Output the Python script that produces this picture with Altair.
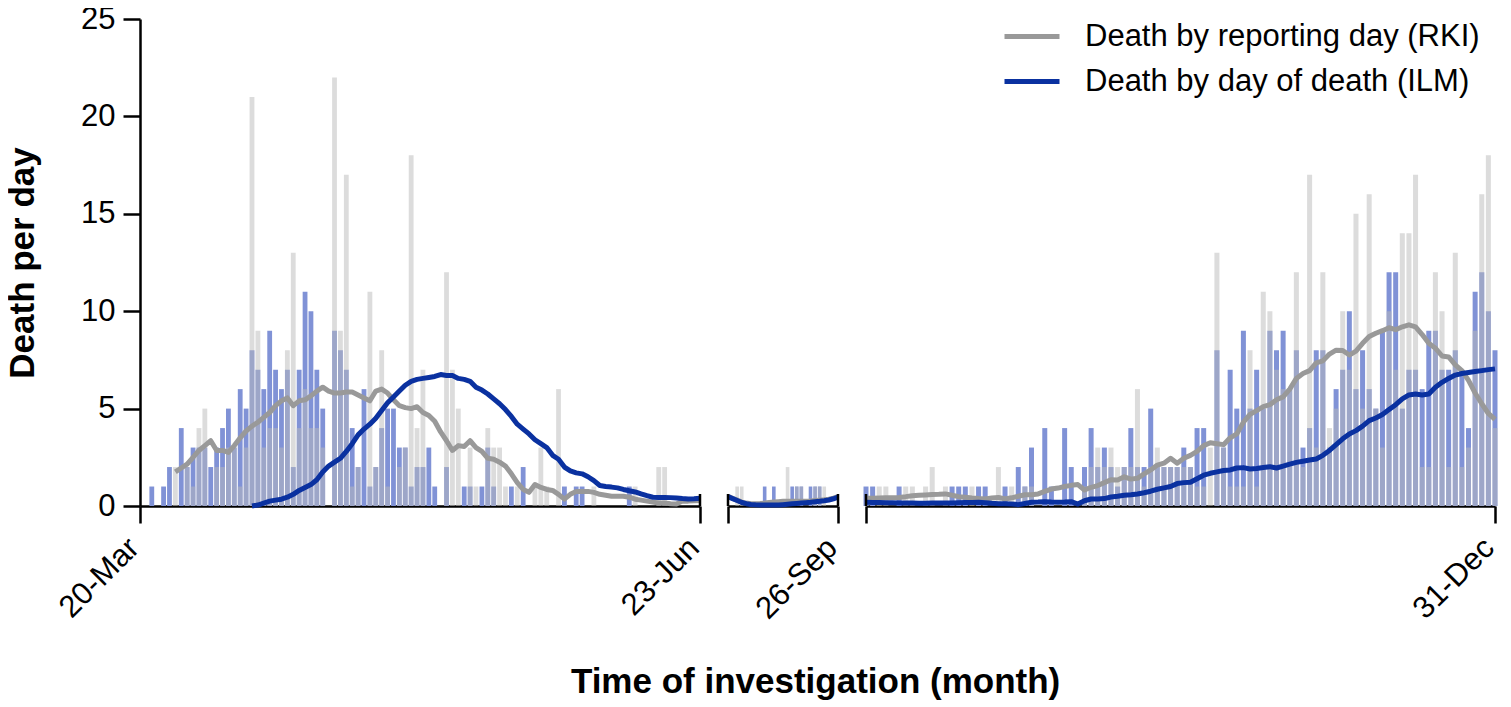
import altair as alt
import pandas as pd

# ---------------- data ----------------
SEG_START = ["2020-03-20", "2020-09-02", "2020-09-27"]
SEG_END = ["2020-06-23", "2020-09-26", "2020-12-31"]
SHOW_START_LABEL = [True, False, False]

RKI_LABEL = "Death by reporting day (RKI)"
ILM_LABEL = "Death by day of death (ILM)"

# segment 1 (20-Mar .. 23-Jun), daily values
ILM_BARS_1 = [0, 0, 1, 0, 1, 2, 0, 4, 2, 3,
              3, 3, 2, 3, 4, 5, 3, 6, 5, 8,
              7, 6, 9, 7, 6, 7, 2, 7, 11, 10,
              7, 5, 0, 9, 8, 7, 4, 2, 6, 1,
              2, 4, 5, 5, 3, 3, 1, 2, 2, 3,
              1, 0, 2, 0, 0, 1, 1, 0, 1, 3,
              1, 0, 0, 1, 0, 2, 0, 0, 0, 0,
              0, 0, 1, 0, 1, 1, 0, 0, 0, 0,
              0, 0, 0, 1, 0, 0, 0, 0, 0, 0,
              0, 0, 0, 0, 0, 0]
RKI_BARS_1 = [0, 0, 0, 0, 0, 0, 2, 0, 2, 1,
              4, 5, 0, 2, 2, 3, 3, 1, 3, 21,
              9, 3, 4, 4, 3, 8, 13, 4, 6, 4,
              4, 3, 0, 22, 9, 17, 1, 2, 0, 11,
              2, 8, 1, 0, 2, 3, 18, 4, 7, 0,
              0, 0, 12, 7, 5, 0, 3, 1, 0, 4,
              3, 3, 1, 0, 1, 0, 0, 1, 3, 1,
              0, 6, 0, 0, 0, 0, 0, 1, 0, 0,
              0, 0, 0, 0, 1, 0, 0, 0, 2, 2,
              0, 0, 0, 0, 0, 0]
RKI_LINE_1_START = 6
RKI_LINE_1 = [1.75, 1.95, 2.15, 2.5, 2.85, 3.1, 3.35, 2.85, 2.85, 2.75,
              3.1, 3.5, 3.85, 4.1, 4.3, 4.55, 4.8, 5.15, 5.4, 5.55,
              5.15, 5.4, 5.45, 5.65, 5.9, 6.1, 5.9, 5.8, 5.8, 5.85,
              5.85, 5.7, 5.55, 5.4, 5.9, 6.0, 5.8, 5.45, 5.15, 5.05,
              5.0, 5.1, 4.8, 4.65, 4.35, 3.8, 3.35, 2.85, 3.1, 3.05,
              3.35, 3.0, 2.8, 2.45, 2.4, 2.25, 2.05, 1.65, 1.2, 0.85,
              0.7, 1.1, 0.95, 0.85, 0.8, 0.6, 0.35, 0.6, 0.75, 0.75,
              0.75, 0.7, 0.6, 0.55, 0.5, 0.5, 0.5, 0.45, 0.35, 0.3,
              0.25, 0.2, 0.15, 0.15, 0.12, 0.1, 0.25, 0.25, 0.27, 0.28]
ILM_LINE_1_START = 19
ILM_LINE_1 = [0.0, 0.05, 0.15, 0.25, 0.3, 0.35, 0.45, 0.6, 0.8, 0.95,
              1.1, 1.35, 1.75, 2.05, 2.25, 2.45, 2.8, 3.2, 3.65, 3.95,
              4.2, 4.5, 4.9, 5.3, 5.6, 5.9, 6.2, 6.4, 6.5, 6.55,
              6.6, 6.65, 6.75, 6.7, 6.7, 6.55, 6.5, 6.4, 6.1, 5.95,
              5.75, 5.5, 5.25, 4.95, 4.6, 4.2, 3.95, 3.7, 3.4, 3.2,
              3.0, 2.6, 2.4, 2.0, 1.8, 1.7, 1.65, 1.5, 1.3, 1.05,
              1.0, 0.97, 0.93, 0.85, 0.78, 0.72, 0.62, 0.53, 0.45, 0.44,
              0.44, 0.43, 0.41, 0.38, 0.36, 0.37, 0.4]

# segment 2 (02-Sep .. 26-Sep)
ILM_BARS_2 = [0, 0, 0, 0, 0, 0, 0, 0, 1, 0, 1, 0, 0, 0, 1, 1, 1, 0, 1, 1, 1, 0, 0, 0, 0]
RKI_BARS_2 = [0, 0, 1, 1, 0, 0, 0, 0, 0, 0, 0, 0, 0, 2, 0, 1, 1, 0, 0, 1, 1, 1, 0, 0, 0]
RKI_LINE_2_START = 0
RKI_LINE_2 = [0.5, 0.4, 0.3, 0.2, 0.15, 0.12, 0.12, 0.13, 0.15, 0.18, 0.2, 0.22, 0.24,
              0.25, 0.25, 0.24, 0.24, 0.25, 0.26, 0.28, 0.3, 0.32, 0.35, 0.4, 0.48]
ILM_LINE_2_START = 0
ILM_LINE_2 = [0.48, 0.38, 0.28, 0.18, 0.12, 0.08, 0.06, 0.05, 0.05, 0.05, 0.05, 0.05, 0.07,
              0.09, 0.11, 0.13, 0.15, 0.17, 0.19, 0.22, 0.24, 0.27, 0.31, 0.37, 0.45]

# segment 3 (27-Sep .. 31-Dec)
ILM_BARS_3 = [1, 1, 0, 0, 0, 1, 0, 0, 0, 0,
              0, 0, 0, 1, 1, 1, 0, 1, 1, 0,
              0, 1, 0, 2, 1, 3, 0, 4, 1, 0,
              4, 2, 0, 2, 4, 2, 3, 2, 1, 2,
              4, 2, 2, 5, 2, 2, 2, 2, 3, 2,
              4, 4, 0, 8, 3, 7, 5, 9, 5, 7,
              5, 9, 8, 9, 6, 8, 3, 4, 8, 8,
              3, 6, 7, 10, 6, 8, 6, 5, 9, 12,
              12, 5, 7, 7, 6, 9, 9, 7, 7, 8,
              7, 4, 11, 12, 10, 8]
RKI_BARS_3 = [0, 0, 1, 1, 0, 0, 1, 1, 0, 1,
              2, 0, 1, 0, 0, 0, 1, 0, 0, 0,
              2, 0, 1, 0, 1, 1, 0, 0, 0, 0,
              0, 0, 0, 1, 2, 3, 2, 3, 2, 2,
              2, 6, 1, 2, 3, 2, 2, 2, 2, 2,
              1, 1, 3, 13, 3, 1, 1, 1, 8, 1,
              11, 10, 7, 6, 6, 12, 2, 17, 3, 12,
              4, 5, 10, 7, 15, 5, 16, 5, 3, 10,
              7, 14, 14, 17, 2, 2, 12, 10, 2, 13,
              2, 3, 9, 16, 18, 4]
RKI_LINE_3_START = 0
RKI_LINE_3 = [0.4, 0.4, 0.41, 0.42, 0.43, 0.44, 0.48, 0.53, 0.55, 0.57,
              0.59, 0.6, 0.62, 0.55, 0.48, 0.45, 0.41, 0.38, 0.36, 0.41,
              0.44, 0.36, 0.42, 0.5, 0.58, 0.58, 0.62, 0.75, 0.87, 0.92,
              1.0, 1.06, 1.1, 0.82, 0.96, 1.05, 1.2, 1.35, 1.34, 1.5,
              1.38, 1.42, 1.65, 1.85, 2.1, 2.2, 2.45, 2.2, 2.45, 2.6,
              2.8, 3.1, 3.25, 3.2, 3.15, 3.5, 3.7, 4.3, 4.7, 4.9,
              5.1, 5.2, 5.45, 5.6, 6.0, 6.55, 6.8, 6.95, 7.35, 7.45,
              7.8, 8.0, 7.98, 7.75, 7.95, 8.35, 8.7, 8.87, 9.0, 9.15,
              9.05, 9.2, 9.3, 9.2, 8.8, 8.35, 8.1, 7.7, 7.65, 7.25,
              6.95, 6.45, 5.8, 5.25, 4.75, 4.45]
ILM_LINE_3_START = 0
ILM_LINE_3 = [0.19, 0.18, 0.18, 0.17, 0.17, 0.16, 0.15, 0.15, 0.14, 0.14,
              0.15, 0.15, 0.16, 0.16, 0.17, 0.18, 0.18, 0.19, 0.17, 0.14,
              0.12, 0.11, 0.1, 0.07, 0.13, 0.19, 0.2, 0.22, 0.2, 0.19,
              0.2, 0.22, 0.1, 0.27, 0.36, 0.36, 0.38, 0.46, 0.5, 0.55,
              0.58, 0.62, 0.68, 0.76, 0.86, 0.93, 1.0, 1.15, 1.2, 1.22,
              1.4, 1.58, 1.68, 1.75, 1.82, 1.85, 1.95, 1.97, 1.9, 1.93,
              1.98, 2.02, 1.95, 2.05, 2.15, 2.24, 2.3, 2.36, 2.41, 2.6,
              2.85, 3.15, 3.45, 3.7, 3.87, 4.1, 4.38, 4.52, 4.7, 4.95,
              5.2, 5.5, 5.7, 5.75, 5.7, 5.75, 6.1, 6.35, 6.55, 6.72,
              6.8, 6.85, 6.9, 6.95, 7.0, 7.04]

Y_TICKS = [0, 5, 10, 15, 20, 25]

# ---------------- style ----------------
FONT = "Liberation Sans"
BLUE_BAR = "#8092d6"
GREY_BAR = "#b9b9b9"
GREY_LINE = "#999999"
BLUE_LINE = "#0a31a0"
PANEL_W = [560, 110, 629]
BAR_SIZE = [4.8, 3.6, 5.0]
PANEL_H = 487
LABEL_SIZE = 31
TITLE_SIZE = 35

SEGMENTS = [
    (ILM_BARS_1, RKI_BARS_1, RKI_LINE_1, RKI_LINE_1_START, ILM_LINE_1, ILM_LINE_1_START),
    (ILM_BARS_2, RKI_BARS_2, RKI_LINE_2, RKI_LINE_2_START, ILM_LINE_2, ILM_LINE_2_START),
    (ILM_BARS_3, RKI_BARS_3, RKI_LINE_3, RKI_LINE_3_START, ILM_LINE_3, ILM_LINE_3_START),
]

yscale = alt.Scale(domain=[Y_TICKS[0], Y_TICKS[-1]], nice=False, zero=True)


def make_panel(i):
    ilm_b, rki_b, rki_l, rki_s, ilm_l, ilm_s = SEGMENTS[i]
    start = pd.Timestamp(SEG_START[i])
    end = pd.Timestamp(SEG_END[i])
    n = (end - start).days
    start_lbl = start.strftime("%d-%b") if SHOW_START_LABEL[i] else ""
    end_lbl = end.strftime("%d-%b")

    bars = pd.DataFrame({"day": list(range(len(ilm_b))), "ilm": ilm_b, "rki": rki_b})
    lines = pd.concat([
        pd.DataFrame({"day": [rki_s + k for k in range(len(rki_l))], "value": rki_l,
                      "series": RKI_LABEL}),
        pd.DataFrame({"day": [ilm_s + k for k in range(len(ilm_l))], "value": ilm_l,
                      "series": ILM_LABEL}),
    ], ignore_index=True)

    # ends of the axis segment that sit next to an axis break
    brk = []
    if i > 0:
        brk.append(0)
    if i < len(SEGMENTS) - 1:
        brk.append(n)
    breaks = pd.DataFrame({"day": brk})

    label_expr = (f"datum.value == {n} ? '{end_lbl}' : "
                  f"(datum.value == 0 ? '{start_lbl}' : '')")
    xaxis = alt.Axis(values=[0, n], labelExpr=label_expr, title=None, grid=False,
                     domainColor="black", domainWidth=2.5, tickColor="black",
                     tickWidth=2.5, tickSize=17, labelFontSize=LABEL_SIZE,
                     labelColor="black", labelAngle=315, labelAlign="right",
                     labelBaseline="middle", labelPadding=20, labelOffset=-6,
                     labelFlush=False, labelOverlap=False)
    xscale = alt.Scale(domain=[0, n], nice=False, zero=False, padding=0)
    if i == 0:
        yaxis = alt.Axis(values=Y_TICKS, title="Death per day", grid=False,
                         domainColor="black", domainWidth=2.5, tickColor="black",
                         tickWidth=2.5, tickSize=17, labelFontSize=LABEL_SIZE,
                         labelColor="black", labelPadding=8, titleFontSize=TITLE_SIZE,
                         titleFontWeight="bold", titleColor="black", titlePadding=40)
    else:
        yaxis = None

    x = alt.X("day:Q", scale=xscale, axis=xaxis)

    ilm_bar = alt.Chart(bars).mark_bar(size=BAR_SIZE[i], color=BLUE_BAR).encode(
        x=x, y=alt.Y("ilm:Q", scale=yscale, axis=yaxis))
    rki_bar = alt.Chart(bars).mark_bar(size=BAR_SIZE[i], color=GREY_BAR, opacity=0.5).encode(
        x=x, y=alt.Y("rki:Q", scale=yscale, axis=yaxis))

    if i == len(SEGMENTS) - 1:
        legend = alt.Legend(title=None, orient="none", legendX=136, legendY=-12.5,
                            symbolType="stroke", symbolStrokeWidth=5, symbolSize=3025,
                            labelFontSize=LABEL_SIZE, labelColor="black", labelOffset=23,
                            rowPadding=-4, labelLimit=600)
    else:
        legend = None

    line = alt.Chart(lines).mark_line(strokeWidth=5, strokeJoin="round").encode(
        x=x,
        y=alt.Y("value:Q", scale=yscale, axis=yaxis),
        color=alt.Color("series:N", sort=[RKI_LABEL, ILM_LABEL],
                        scale=alt.Scale(domain=[RKI_LABEL, ILM_LABEL],
                                        range=[GREY_LINE, BLUE_LINE]),
                        legend=legend),
    )

    layers = [ilm_bar, rki_bar, line]
    if len(breaks):
        tick = alt.Chart(breaks).mark_rule(color="black", strokeWidth=2.5).encode(
            x=x, y=alt.value(PANEL_H - 12), y2=alt.value(PANEL_H))
        layers.append(tick)

    return alt.layer(*layers).properties(width=PANEL_W[i], height=PANEL_H)


chart = alt.hconcat(*[make_panel(i) for i in range(3)], spacing=28,
                    bounds="flush").resolve_scale(
    x="independent", color="independent"
).properties(
    title=alt.TitleParams("Time of investigation (month)", orient="bottom",
                          anchor="middle", fontSize=TITLE_SIZE, fontWeight="bold",
                          color="black", offset=41, dx=63, font=FONT),
    padding={"left": -3, "top": -5, "right": 0, "bottom": 0},
).configure(font=FONT).configure_view(stroke=None).configure_axis(
    labelFont=FONT, titleFont=FONT
).configure_legend(labelFont=FONT)

chart.save("out.html", embed_options={"renderer": "svg", "actions": False})
